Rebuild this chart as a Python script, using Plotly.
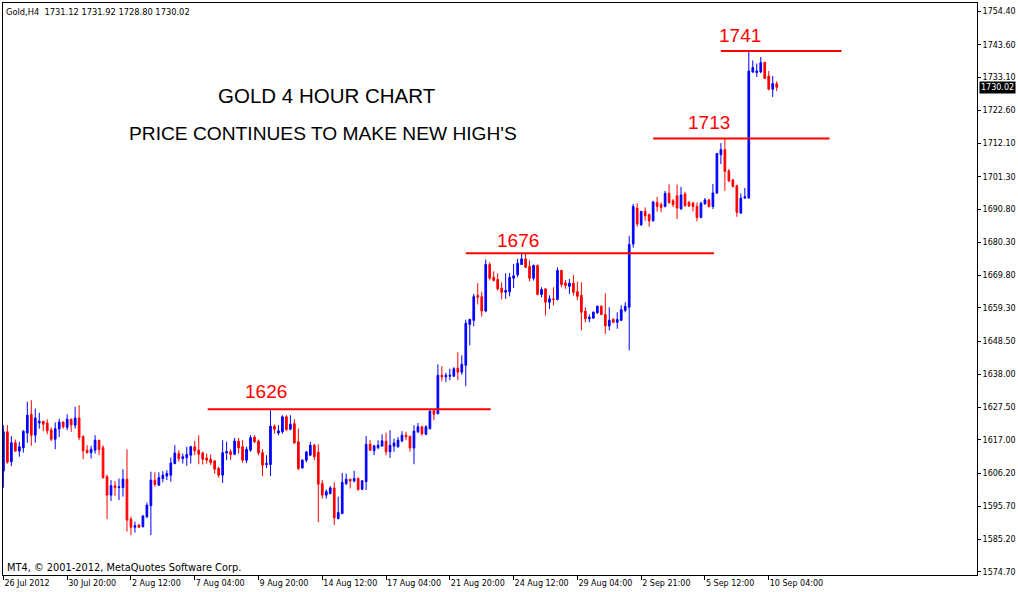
import plotly.graph_objects as go

# ---- data (Gold H4, 26 Jul - 10 Sep 2012) ----
bar_index = list(range(195))

open_ = [1607.0,1619.6,1610.0,1616.1,1613.4,1614.4,1619.2,1625.2,1618.5,1622.4,
         1623.0,1622.4,1620.2,1617.2,1620.5,1622.7,1621.0,1623.6,1621.7,1624.0,
         1618.2,1613.7,1612.9,1613.7,1616.9,1614.5,1605.2,1599.3,1602.3,1601.7,
         1601.7,1604.4,1591.6,1589.0,1589.7,1589.2,1592.4,1595.9,1604.1,1602.5,
         1604.6,1605.4,1605.7,1609.4,1612.6,1611.0,1611.3,1612.1,1614.8,1613.7,
         1612.8,1611.2,1610.8,1610.3,1607.9,1605.7,1612.8,1613.2,1612.4,1616.6,
         1614.8,1610.5,1613.7,1617.9,1616.6,1612.9,1609.1,1609.1,1621.4,1619.2,
         1619.6,1624.4,1620.4,1622.2,1616.4,1608.0,1610.5,1612.1,1615.3,1613.0,
         1603.0,1599.3,1599.8,1601.6,1591.8,1593.4,1603.0,1604.4,1603.8,1604.6,
         1601.2,1603.6,1615.6,1613.5,1614.5,1615.0,1616.6,1613.2,1615.0,1614.8,
         1616.7,1618.5,1618.2,1614.4,1619.6,1621.2,1618.8,1620.6,1626.3,1625.4,
         1637.7,1637.2,1637.4,1637.4,1640.0,1638.7,1640.9,1654.0,1655.3,1663.3,
         1662.9,1658.3,1673.2,1669.1,1668.4,1665.6,1664.3,1664.5,1668.8,1669.9,
         1673.2,1675.0,1672.6,1668.8,1672.9,1663.6,1665.4,1661.1,1662.2,1662.0,
         1671.3,1667.3,1666.2,1667.2,1664.5,1663.3,1658.2,1655.8,1656.0,1657.7,
         1659.8,1657.2,1653.5,1655.6,1654.7,1655.3,1658.5,1659.5,1679.8,1691.3,
         1685.9,1690.2,1689.2,1687.2,1693.1,1692.4,1691.8,1696.0,1693.6,1695.2,
         1691.0,1695.8,1693.1,1692.9,1691.8,1688.3,1692.6,1693.9,1691.8,1696.1,
         1708.4,1710.0,1703.2,1700.3,1698.4,1689.7,1694.5,1694.5,1734.9,1734.7,
         1734.9,1738.0,1733.6,1729.4,1731.12]

high = [1621.7,1621.7,1618.2,1617.1,1616.4,1620.1,1629.2,1629.7,1627.0,1625.7,
        1623.0,1623.6,1621.0,1622.6,1623.8,1623.0,1625.2,1623.8,1627.6,1628.1,
        1618.2,1615.3,1615.1,1618.5,1616.9,1615.3,1605.9,1604.1,1603.8,1604.6,
        1607.6,1614.0,1592.4,1590.8,1590.0,1592.9,1596.9,1606.8,1606.6,1606.6,
        1607.0,1607.3,1611.3,1615.3,1613.7,1612.6,1614.8,1615.1,1616.7,1618.5,
        1613.2,1612.6,1612.3,1610.3,1608.4,1616.9,1616.4,1614.0,1617.6,1617.6,
        1616.9,1614.8,1618.5,1618.5,1617.1,1614.0,1612.1,1626.5,1621.9,1621.7,
        1624.9,1624.9,1624.9,1623.6,1620.6,1610.8,1613.5,1616.4,1615.7,1615.6,
        1604.1,1601.1,1602.2,1603.4,1598.8,1606.4,1606.2,1604.4,1607.1,1605.0,
        1604.1,1618.2,1616.9,1615.3,1616.9,1618.8,1619.3,1620.1,1617.4,1617.9,
        1619.8,1619.6,1618.2,1621.7,1622.4,1621.5,1621.7,1626.5,1626.7,1641.2,
        1640.6,1638.5,1639.8,1640.3,1645.1,1644.1,1655.5,1655.8,1663.8,1667.2,
        1664.5,1674.8,1673.9,1671.0,1670.4,1667.5,1670.4,1670.5,1673.4,1675.0,
        1676.6,1676.6,1674.5,1673.2,1673.2,1665.9,1665.4,1663.3,1665.9,1672.3,
        1671.5,1668.3,1668.6,1669.9,1667.7,1667.5,1659.5,1657.2,1658.2,1660.1,
        1660.1,1664.0,1659.5,1656.0,1657.9,1660.1,1661.1,1682.4,1692.6,1692.8,
        1690.4,1691.5,1689.5,1693.6,1694.9,1693.1,1696.8,1698.9,1694.2,1698.8,
        1698.1,1696.5,1693.6,1693.3,1693.1,1693.3,1694.5,1694.2,1699.0,1708.8,
        1712.1,1713.4,1703.8,1700.6,1698.8,1696.0,1697.7,1741.6,1738.6,1737.6,
        1739.7,1738.1,1735.2,1733.6,1731.92]

low = [1601.7,1609.4,1608.6,1613.2,1611.6,1612.9,1616.1,1615.1,1616.1,1620.6,
       1619.8,1618.8,1616.6,1614.0,1617.9,1620.6,1620.1,1619.6,1620.6,1616.9,
       1610.8,1612.6,1611.0,1612.6,1612.1,1604.6,1591.6,1597.4,1599.1,1597.7,
       1598.8,1587.6,1586.5,1587.3,1588.9,1588.9,1591.9,1586.5,1602.0,1602.3,
       1603.4,1604.1,1603.6,1609.2,1610.0,1609.4,1608.7,1609.4,1612.1,1609.2,
       1609.1,1609.4,1608.9,1606.2,1604.9,1603.2,1610.5,1610.5,1612.1,1612.6,
       1609.7,1609.6,1613.2,1616.0,1612.1,1605.4,1608.0,1605.4,1619.0,1618.5,
       1619.0,1619.9,1620.1,1615.8,1607.3,1607.8,1609.8,1611.8,1610.5,1590.6,
       1598.2,1598.2,1599.5,1589.7,1591.5,1593.2,1602.5,1601.4,1603.4,1600.7,
       1600.9,1600.9,1613.5,1612.1,1614.0,1614.8,1612.1,1611.2,1613.2,1614.5,
       1616.2,1616.9,1613.2,1609.2,1619.2,1618.3,1618.5,1620.3,1623.3,1625.2,
       1635.8,1635.5,1636.1,1637.2,1636.1,1637.9,1634.2,1647.3,1653.4,1660.4,
       1656.5,1657.9,1668.1,1667.8,1664.9,1662.0,1662.2,1663.0,1665.7,1669.1,
       1673.2,1672.1,1667.8,1668.1,1663.3,1662.7,1656.9,1659.0,1660.1,1661.7,
       1665.9,1665.4,1663.8,1663.3,1661.7,1652.1,1654.7,1654.7,1655.8,1657.4,
       1656.9,1651.0,1652.1,1654.4,1652.6,1655.1,1657.9,1645.7,1678.6,1685.3,
       1685.6,1687.2,1685.3,1687.0,1690.1,1689.9,1691.5,1692.6,1691.6,1687.8,
       1690.8,1691.8,1691.6,1690.2,1687.0,1688.0,1692.4,1691.5,1691.0,1695.8,
       1705.4,1696.8,1699.6,1697.9,1688.5,1689.4,1694.2,1694.4,1734.6,1733.3,
       1734.5,1732.8,1729.0,1726.9,1728.80]

close = [1619.6,1609.8,1616.1,1613.4,1614.8,1619.8,1624.9,1618.5,1624.0,1623.0,
         1622.0,1619.9,1617.2,1620.6,1622.7,1621.2,1623.6,1621.8,1624.0,1617.8,
         1613.5,1612.9,1614.0,1616.9,1613.9,1604.9,1599.3,1602.3,1601.7,1601.9,
         1604.4,1591.3,1589.0,1589.5,1589.0,1592.6,1596.1,1604.1,1602.7,1604.9,
         1605.7,1606.2,1609.6,1612.8,1611.0,1611.6,1612.3,1614.8,1613.5,1612.4,
         1610.8,1610.5,1609.7,1607.6,1605.7,1612.9,1613.2,1612.3,1616.6,1614.4,
         1610.5,1614.0,1617.7,1616.4,1612.8,1608.9,1609.4,1621.4,1620.4,1619.9,
         1624.4,1620.3,1622.0,1616.0,1607.8,1610.5,1613.1,1615.3,1611.6,1602.8,
         1599.3,1600.4,1601.6,1592.0,1593.7,1603.4,1604.4,1603.8,1604.6,1601.1,
         1603.9,1615.6,1613.7,1615.1,1615.3,1616.7,1613.2,1615.3,1616.0,1616.9,
         1618.5,1618.0,1614.4,1619.8,1621.2,1619.0,1621.2,1626.2,1625.2,1637.7,
         1637.2,1637.7,1637.7,1639.8,1638.7,1641.2,1654.4,1655.6,1662.9,1662.7,
         1658.3,1673.2,1668.8,1668.1,1665.4,1664.3,1664.9,1669.1,1669.6,1673.6,
         1675.0,1672.3,1668.8,1672.9,1663.6,1665.2,1661.1,1662.2,1662.0,1671.3,
         1666.8,1666.5,1667.2,1664.3,1663.0,1657.9,1655.8,1656.3,1657.9,1659.8,
         1657.2,1653.5,1655.3,1654.7,1655.6,1658.7,1659.8,1679.6,1691.8,1686.2,
         1690.2,1688.8,1687.2,1693.2,1691.8,1691.5,1696.0,1693.1,1692.4,1691.3,
         1695.5,1692.0,1692.0,1691.8,1688.3,1692.8,1693.9,1691.8,1696.1,1708.8,
         1710.0,1703.0,1700.0,1698.2,1689.9,1694.5,1694.9,1735.2,1736.3,1735.2,
         1737.9,1732.8,1729.4,1731.2,1730.02]

time_tick_bars = [0, 16, 32, 48, 64, 80, 96, 112, 128, 144, 160, 176, 192]
time_tick_labels = ["26 Jul 2012", "30 Jul 20:00", "2 Aug 12:00", "7 Aug 04:00",
                    "9 Aug 20:00", "14 Aug 12:00", "17 Aug 04:00", "21 Aug 20:00",
                    "24 Aug 12:00", "29 Aug 04:00", "2 Sep 21:00", "5 Sep 12:00",
                    "10 Sep 04:00"]

price_ticks = [1754.40, 1743.60, 1733.10, 1722.60, 1712.10, 1701.30, 1690.80,
               1680.30, 1669.80, 1659.30, 1648.50, 1638.00, 1627.50, 1617.00,
               1606.20, 1595.70, 1585.20, 1574.70]

level_prices = [1626.8, 1676.8, 1713.6, 1741.6]
level_start_bar = [51.25, 116.0, 163.0, 180.0]
level_end_bar = [122.25, 178.25, 207.25, 210.25]
level_labels = ["1626", "1676", "1713", "1741"]

last_price = 1730.02

# ---- figure ----
UP = "#0000FF"
DOWN = "#FF0000"
mt_font = "DejaVu Sans"
mt_size = 8

fig = go.Figure()
fig.add_trace(go.Candlestick(
    x=bar_index, open=open_, high=high, low=low, close=close,
    increasing=dict(line=dict(color=UP, width=1), fillcolor=UP),
    decreasing=dict(line=dict(color=DOWN, width=1), fillcolor=DOWN),
    whiskerwidth=0, showlegend=False, hoverinfo="skip",
))

for p, s, e in zip(level_prices, level_start_bar, level_end_bar):
    fig.add_trace(go.Scatter(x=[s, e], y=[p, p], mode="lines",
                             line=dict(color=DOWN, width=2),
                             showlegend=False, hoverinfo="skip"))

# level labels (text placement)
label_pos = [(66, 1632.4), (129, 1680.8), (177, 1718.6), (184.75, 1746.6)]
annotations = []
for (lx, ly), txt in zip(label_pos, level_labels):
    annotations.append(dict(x=lx, y=ly, xref="x", yref="y", text=txt,
                            showarrow=False, xanchor="center", yanchor="middle",
                            font=dict(family="Liberation Sans, Arial", size=19, color=DOWN)))

annotations += [
    dict(x=0.3323, y=0.8377, xref="paper", yref="paper", text="GOLD 4 HOUR CHART",
         showarrow=False, xanchor="center", yanchor="middle",
         font=dict(family="Liberation Sans, Arial", size=20.5, color="black")),
    dict(x=0.3282, y=0.7714, xref="paper", yref="paper",
         text="PRICE CONTINUES TO MAKE NEW HIGH'S",
         showarrow=False, xanchor="center", yanchor="middle",
         font=dict(family="Liberation Sans, Arial", size=19.2, color="black")),
    dict(x=0, y=1, xref="paper", yref="paper", xshift=1, yshift=-9,
         text="Gold,H4  1731.12 1731.92 1728.80 1730.02",
         showarrow=False, xanchor="left", yanchor="middle",
         font=dict(family=mt_font, size=8.3, color="black")),
    dict(x=0, y=0, xref="paper", yref="paper", xshift=2, yshift=8,
         text="MT4, © 2001-2012, MetaQuotes Software Corp.",
         showarrow=False, xanchor="left", yanchor="middle",
         font=dict(family=mt_font, size=9.8, color="black")),
    dict(x=1, y=last_price, xref="paper", yref="y", xshift=2,
         text=f"{last_price:.2f}", showarrow=False, xanchor="left", yanchor="middle",
         bgcolor="black", borderpad=1,
         font=dict(family=mt_font, size=mt_size, color="white")),
]

fig.update_layout(
    width=1018, height=592,
    margin=dict(l=2, r=38, t=2, b=17),
    paper_bgcolor="white", plot_bgcolor="white",
    boxgap=0.4,
    showlegend=False,
    annotations=annotations,
    xaxis=dict(
        range=[-0.1, 244.25], rangeslider=dict(visible=False),
        tickmode="array", tickvals=time_tick_bars, ticktext=time_tick_labels,
        ticks="outside", ticklen=4, tickcolor="black", tickwidth=1,
        ticklabelposition="outside right",
        tickfont=dict(family=mt_font, size=mt_size, color="black"),
        showline=True, linecolor="black", linewidth=1, mirror=True,
        showgrid=False, zeroline=False,
    ),
    yaxis=dict(
        range=[1573.7, 1757.0], side="right",
        tickmode="array", tickvals=price_ticks,
        ticktext=[f"{v:.2f}" for v in price_ticks],
        ticks="outside", ticklen=3, tickcolor="black", tickwidth=1,
        tickfont=dict(family=mt_font, size=mt_size, color="black"),
        showline=True, linecolor="black", linewidth=1, mirror=True,
        showgrid=False, zeroline=False,
    ),
)

fig.write_html("out.html", config={"displayModeBar": False},
               post_script="document.body.style.margin='0';document.body.style.overflow='hidden';")
